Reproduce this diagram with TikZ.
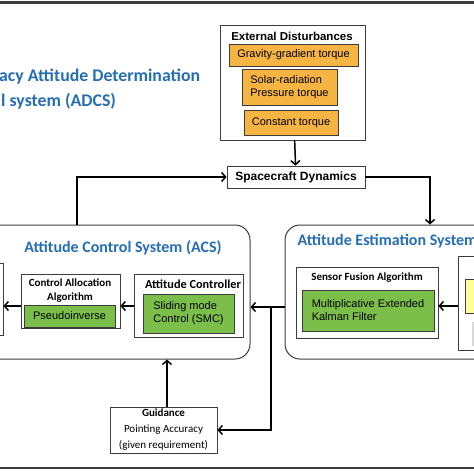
\documentclass[tikz,border=0pt]{standalone}
\usepackage{fontspec}
\setmainfont{Carlito}
\newfontfamily\arialfont{Liberation Sans}
\usepackage{tikz}
\usetikzlibrary{arrows.meta}
\definecolor{titleblue}{RGB}{38,110,180}
\definecolor{boxgreen}{RGB}{124,190,74}
\definecolor{boxorange}{RGB}{246,180,66}
\definecolor{boxyellow}{RGB}{255,255,153}
\definecolor{boxgray}{RGB}{217,217,217}
\definecolor{edgegray}{RGB}{60,60,60}
\tikzset{
    plain/.style={draw=edgegray,line width=0.8pt,fill=white,inner sep=0pt},
    system/.style={draw=edgegray,line width=1pt,fill=white,rounded corners=15pt,inner sep=0pt},
    torque/.style={draw=edgegray,line width=0.8pt,fill=boxorange,inner sep=0pt,font=\arialfont\fontsize{11}{13}\selectfont},
    method/.style={draw=edgegray,line width=0.8pt,fill=boxgreen,inner sep=0pt,font=\arialfont\fontsize{11}{13}\selectfont},
    head/.style={font=\bfseries\fontsize{11}{12}\selectfont},
    arialhead/.style={font=\arialfont\bfseries\fontsize{11}{12}\selectfont},
    bigtitle/.style={text=titleblue,font=\bfseries\fontsize{16}{18}\selectfont},
    link/.style={-{Straight Barb[length=4pt,width=9pt]},line width=1.5pt,black},
}

\begin{document}
\begin{tikzpicture}[x=1pt,y=-1pt]
    \useasboundingbox (0,0) rectangle (474,474);
    \clip (0,0) rectangle (474,474);
    % frame lines
    \draw [edgegray,line width=3pt] (-5,2) -- (480,2);
    \draw [edgegray,line width=2.5pt] (-5,468) -- (480,468);
    % title
    \node [bigtitle,font=\bfseries\fontsize{17.8}{20}\selectfont,anchor=west,inner sep=0pt] (title1) at (-1,77) {acy Attitude Determination};
    \node [bigtitle,font=\bfseries\fontsize{17.8}{20}\selectfont,anchor=west,inner sep=0pt] (title2) at (1,101) {l system (ADCS)};
    % disturbances
    \node [plain,minimum width=145pt,minimum height=115pt] (ext) at (292.5,82.5) {};
    \node [arialhead,font=\arialfont\bfseries\fontsize{11.5}{12}\selectfont] (exttitle) at (292,36) {External Disturbances};
    \node [torque,minimum width=129pt,minimum height=22pt] (grav) at (293.5,55) {Gravity-gradient torque};
    \node [torque,minimum width=95pt,minimum height=36pt,align=left] (solar) at (289.5,87) {Solar-radiation\\Pressure torque};
    \node [torque,minimum width=94pt,minimum height=25pt] (const) at (291,122.5) {Constant torque};
    \node [plain,arialhead,font=\arialfont\bfseries\fontsize{12}{13}\selectfont,minimum width=138pt,minimum height=22pt] (dyn) at (296,177) {Spacecraft Dynamics};
    % attitude control system
    \node [system,minimum width=270pt,minimum height=134pt] (acs) at (115,292) {};
    \node [bigtitle] (acstitle) at (123,248) {Attitude Control System (ACS)};
    \node [plain,minimum width=40pt,minimum height=72pt] (act) at (-17,299) {};
    \node [plain,minimum width=109pt,minimum height=63pt] (ctrl) at (188.5,305.5) {};
    \node [head,font=\bfseries\fontsize{12.3}{13}\selectfont] (ctrltitle) at (193,284) {Attitude Controller};
    \node [method,minimum width=91pt,minimum height=39pt,align=left] (smc) at (188.5,313.5) {Sliding mode\\Control (SMC)};
    \node [plain,minimum width=99pt,minimum height=54pt] (alloc) at (70.5,301) {};
    \node [head,align=center,font=\bfseries\fontsize{11}{14}\selectfont] (alloctitle) at (70,291) {Control Allocation\\Algorithm};
    \node [method,minimum width=91pt,minimum height=22pt] (pinv) at (69.5,316) {Pseudoinverse};
    % attitude estimation system
    \node [system,minimum width=230pt,minimum height=134pt] (aes) at (400,292) {};
    \node [bigtitle,anchor=west] (aestitle) at (294,241) {Attitude Estimation System};
    \node [plain,minimum width=142pt,minimum height=71pt] (sfa) at (367,302.5) {};
    \node [head] (sfatitle) at (367,278) {Sensor Fusion Algorithm};
    \node [method,minimum width=132pt,minimum height=41pt,align=left] (mekf) at (368,310.5) {Multiplicative Extended\\Kalman Filter};
    \node [plain,minimum width=60pt,minimum height=94pt] (sens) at (488,303) {};
    \node [draw=edgegray,line width=0.8pt,fill=boxyellow,minimum width=50pt,minimum height=34pt] (yel) at (490,296) {};
    \node [draw=boxgray,fill=boxgray,minimum width=40pt,minimum height=23pt] (gry) at (492,333.5) {};
    % guidance
    \node [plain,minimum width=107pt,minimum height=46pt,align=center,font=\fontsize{11}{16}\selectfont] (guid) at (163.5,430) {\textbf{Guidance}\\Pointing Accuracy\\(given requirement)};
    % connectors
    \coordinate (split) at (271,307);
    \draw [link] (ext) -- (dyn);
    \draw [link] (dyn.east) -| (aes.north -| 430,0);
    \draw [link] (acs.north -| 77,0) |- (dyn.west);
    \draw [link] (ctrl.west |- 0,306) -- (alloc.east |- 0,306);
    \draw [link] (alloc.west |- 0,306) -- (act.east |- 0,306);
    \draw [link] (sens.west |- 0,306) -- (sfa.east |- 0,306);
    \draw [link] (aes.west |- split) -- (acs.east |- split);
    \draw [link] (split) |- (guid.east);
    \draw [link] (guid.north -| 167,0) -- (acs.south -| 167,0);
\end{tikzpicture}
\end{document}
